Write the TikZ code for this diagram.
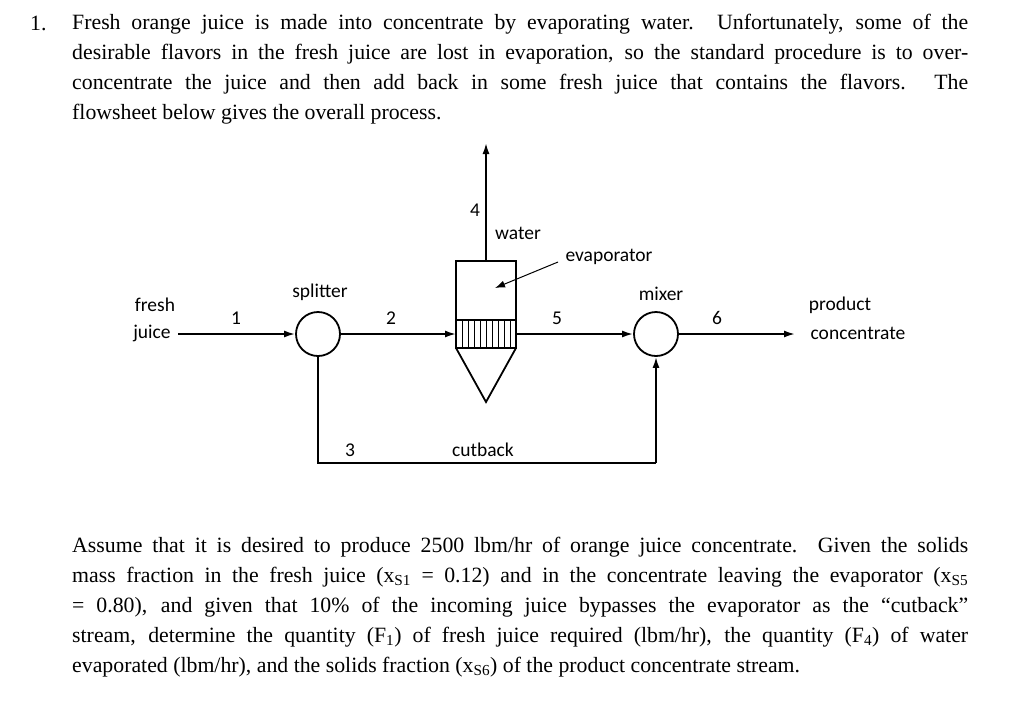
\documentclass[tikz,border=0pt]{standalone}
\usepackage{fontspec}
\setmainfont{Liberation Serif}
\newfontfamily\lab{Carlito}
\usetikzlibrary{arrows.meta}
\begin{document}
\begin{tikzpicture}[x=1pt,y=-1pt,
  ln/.style={line width=1.8pt},
  arr/.style={ln,-{Latex[length=11pt,width=7pt]}},
  unit/.style={circle,draw,line width=1.8pt,minimum size=44pt,inner sep=0pt},
  lb/.style={font=\lab\fontsize{19.5}{22}\selectfont,inner sep=0pt},
  para/.style={font=\fontsize{21.8}{30}\selectfont,text width=896pt,align=justify,inner sep=0pt,anchor=north west}]
\useasboundingbox (0,0) rectangle (1024,710);
\node[para] (p1) at (72,14) {Fresh orange juice is made into concentrate by evaporating water. Unfortunately, some of the\linebreak desirable flavors in the fresh juice are lost in evaporation, so the standard procedure is to over-\linebreak concentrate the juice and then add back in some fresh juice that contains the flavors. The\linebreak flowsheet below gives the overall process.};
\node[font=\fontsize{21.8}{30}\selectfont,inner sep=0pt,anchor=north west] (num) at (30,16) {1.};
\node[para] (p2) at (72,537) {Assume that it is desired to produce 2500 lbm/hr of orange juice concentrate. Given the solids\linebreak mass fraction in the fresh juice (x\textsubscript{S1} = 0.12) and in the concentrate leaving the evaporator (x\textsubscript{S5}\linebreak = 0.80), and given that 10\% of the incoming juice bypasses the evaporator as the ``cutback''\linebreak stream, determine the quantity (F\textsubscript{1}) of fresh juice required (lbm/hr), the quantity (F\textsubscript{4}) of water\linebreak evaporated (lbm/hr), and the solids fraction (x\textsubscript{S6}) of the product concentrate stream.};
% units
\node[unit] (spl) at (318,334) {};
\node[unit] (mix) at (656,334) {};
\coordinate (evL) at (456,334);
\coordinate (evR) at (516,334);
\coordinate (evT) at (486,261);
\draw[ln] (456,261) rectangle (516,320);
\draw[ln] (456,320) rectangle (516,348);
\foreach \i in {1,...,9} \draw[line width=0.9pt] (456+\i*6,320) -- (456+\i*6,348);
\draw[ln] (456,348) -- (486,402) -- (516,348);
% streams
\coordinate (fin) at (178,334);
\coordinate (pout) at (795,334);
\coordinate (wtop) at (486,143);
\coordinate (c1) at (318,463);
\coordinate (c2) at (656,463);
\draw[arr] (fin) -- (spl);
\draw[arr] (spl) -- (evL);
\draw[arr] (evR) -- (mix);
\draw[arr] (mix) -- (pout);
\draw[arr] (evT) -- (wtop);
\draw[ln] (spl.south) -- (c1) -- (c2);
\draw[arr] (c2) -- (mix.south);
\coordinate (ptr) at (558,262);
\coordinate (ptrh) at (495,288);
\draw[line width=1pt,-{Latex[length=10pt,width=7pt]}] (ptr) -- (ptrh);
% labels
\node[lb] (lf) at (155,305) {fresh};
\node[lb] (lj) at (152,333) {juice};
\node[lb] (l1) at (236,318) {1};
\node[lb] (l2) at (391,318) {2};
\node[lb] (l5) at (557,318) {5};
\node[lb] (l6) at (717,318) {6};
\node[lb] (ls) at (320,292) {splitter};
\node[lb] (lm) at (661,294) {mixer};
\node[lb] (l4) at (475,210) {4};
\node[lb] (lw) at (518,233) {water};
\node[lb] (le) at (609,257) {evaporator};
\node[lb] (lp) at (840,305) {product};
\node[lb] (lc) at (858,333) {concentrate};
\node[lb] (l3) at (350,450) {3};
\node[lb] (lcb) at (483,450) {cutback};
\end{tikzpicture}
\end{document}
